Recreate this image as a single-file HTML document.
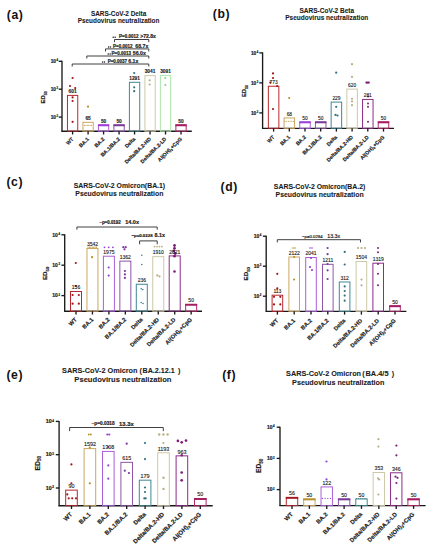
<!DOCTYPE html>
<html><head><meta charset="utf-8"><style>
html,body{margin:0;padding:0;background:#fff;width:434px;height:550px;overflow:hidden}
svg{display:block;font-family:"Liberation Sans", sans-serif}
text{stroke:#1a1a1a;stroke-width:0.18px;paint-order:stroke}
</style></head><body>
<svg width="434" height="550" viewBox="0 0 434 550">
<rect width="434" height="550" fill="#fff"/>
<text x="6.80" y="18.60" font-size="12.2" text-anchor="start" font-weight="bold" fill="#111" style="stroke:none" letter-spacing="0.6">(a)</text>
<text x="118.60" y="15.60" font-size="6.4" text-anchor="middle" font-weight="bold" fill="#1a1a1a" style="stroke-width:0.08px">SARS-CoV-2 Delta</text>
<text x="118.60" y="22.60" font-size="6.4" text-anchor="middle" font-weight="bold" fill="#1a1a1a" style="stroke-width:0.08px">Pseudovirus neutralization</text>
<line x1="62.00" y1="60.80" x2="62.00" y2="131.70" stroke="#1a1a1a" stroke-width="1.35"/>
<line x1="58.70" y1="61.30" x2="62.00" y2="61.30" stroke="#1a1a1a" stroke-width="1.35"/>
<text x="56.00" y="63.00" font-size="4.8" text-anchor="end" font-weight="bold" fill="#1a1a1a" >10</text>
<text x="56.50" y="61.40" font-size="2.64" text-anchor="start" font-weight="bold" fill="#1a1a1a" >4</text>
<line x1="58.70" y1="89.20" x2="62.00" y2="89.20" stroke="#1a1a1a" stroke-width="1.35"/>
<text x="56.00" y="90.90" font-size="4.8" text-anchor="end" font-weight="bold" fill="#1a1a1a" >10</text>
<text x="56.50" y="89.30" font-size="2.64" text-anchor="start" font-weight="bold" fill="#1a1a1a" >3</text>
<line x1="58.70" y1="117.10" x2="62.00" y2="117.10" stroke="#1a1a1a" stroke-width="1.35"/>
<text x="56.00" y="118.80" font-size="4.8" text-anchor="end" font-weight="bold" fill="#1a1a1a" >10</text>
<text x="56.50" y="117.20" font-size="2.64" text-anchor="start" font-weight="bold" fill="#1a1a1a" >2</text>
<text transform="translate(44.90,97.20) rotate(-90)" font-size="5.8" text-anchor="middle" font-weight="bold" fill="#1a1a1a">ED<tspan font-size="3.94" dy="1.6">50</tspan></text>
<line x1="61.50" y1="131.20" x2="191.80" y2="131.20" stroke="#1a1a1a" stroke-width="1.35"/>
<rect x="67.45" y="95.40" width="10.30" height="35.80" fill="none" stroke="#b8282e" stroke-width="1.0"/>
<circle cx="72.60" cy="78.00" r="1.1" fill="#a3161c"/>
<circle cx="70.00" cy="86.00" r="1.1" fill="#a3161c"/>
<circle cx="75.20" cy="88.00" r="1.1" fill="#a3161c"/>
<circle cx="72.60" cy="97.40" r="1.1" fill="#a3161c"/>
<circle cx="72.60" cy="101.00" r="1.1" fill="#a3161c"/>
<circle cx="72.60" cy="121.80" r="1.1" fill="#a3161c"/>
<text x="72.60" y="93.20" font-size="4.8" text-anchor="middle" font-weight="bold" fill="#1a1a1a" style="stroke-width:0.12px">601</text>
<line x1="72.60" y1="131.20" x2="72.60" y2="134.50" stroke="#1a1a1a" stroke-width="1.35"/>
<text transform="translate(73.80,139.50) rotate(-45)" font-size="5.13" text-anchor="end" font-weight="bold" fill="#1a1a1a">WT</text>
<rect x="82.94" y="122.30" width="10.30" height="8.90" fill="none" stroke="#cda661" stroke-width="1.0"/>
<circle cx="88.00" cy="106.70" r="1.1" fill="#b8902a"/>
<circle cx="84.50" cy="125.20" r="0.55" fill="#b8902a"/>
<circle cx="85.90" cy="125.20" r="0.55" fill="#b8902a"/>
<circle cx="87.30" cy="125.20" r="0.55" fill="#b8902a"/>
<circle cx="88.70" cy="125.20" r="0.55" fill="#b8902a"/>
<circle cx="90.10" cy="125.20" r="0.55" fill="#b8902a"/>
<circle cx="91.50" cy="125.20" r="0.55" fill="#b8902a"/>
<text x="88.09" y="120.10" font-size="4.8" text-anchor="middle" font-weight="bold" fill="#1a1a1a" style="stroke-width:0.12px">65</text>
<line x1="88.09" y1="131.20" x2="88.09" y2="134.50" stroke="#1a1a1a" stroke-width="1.35"/>
<text transform="translate(89.29,139.50) rotate(-45)" font-size="5.13" text-anchor="end" font-weight="bold" fill="#1a1a1a">BA.1</text>
<rect x="98.43" y="124.90" width="10.30" height="6.30" fill="none" stroke="#ac5ed9" stroke-width="1.0"/>
<line x1="97.93" y1="125.30" x2="109.23" y2="125.30" stroke="#9b3fd6" stroke-width="1.9"/>
<text x="103.58" y="122.70" font-size="4.8" text-anchor="middle" font-weight="bold" fill="#1a1a1a" style="stroke-width:0.12px">50</text>
<line x1="103.58" y1="131.20" x2="103.58" y2="134.50" stroke="#1a1a1a" stroke-width="1.35"/>
<text transform="translate(104.78,139.50) rotate(-45)" font-size="5.13" text-anchor="end" font-weight="bold" fill="#1a1a1a">BA.2</text>
<rect x="113.92" y="124.90" width="10.30" height="6.30" fill="none" stroke="#8e55a8" stroke-width="1.0"/>
<line x1="113.42" y1="125.30" x2="124.72" y2="125.30" stroke="#7a3a9a" stroke-width="1.9"/>
<text x="119.07" y="122.70" font-size="4.8" text-anchor="middle" font-weight="bold" fill="#1a1a1a" style="stroke-width:0.12px">50</text>
<line x1="119.07" y1="131.20" x2="119.07" y2="134.50" stroke="#1a1a1a" stroke-width="1.35"/>
<text transform="translate(120.27,139.50) rotate(-45)" font-size="5.13" text-anchor="end" font-weight="bold" fill="#1a1a1a">BA.1/BA.2</text>
<rect x="129.41" y="82.30" width="10.30" height="48.90" fill="none" stroke="#3f8796" stroke-width="1.0"/>
<circle cx="134.20" cy="73.00" r="1.1" fill="#2f7282"/>
<circle cx="134.20" cy="87.30" r="1.1" fill="#2f7282"/>
<circle cx="134.20" cy="91.20" r="1.1" fill="#2f7282"/>
<text x="134.56" y="80.10" font-size="4.8" text-anchor="middle" font-weight="bold" fill="#1a1a1a" style="stroke-width:0.12px">1291</text>
<line x1="134.56" y1="131.20" x2="134.56" y2="134.50" stroke="#1a1a1a" stroke-width="1.35"/>
<text transform="translate(135.76,139.50) rotate(-45)" font-size="5.13" text-anchor="end" font-weight="bold" fill="#1a1a1a">Delta</text>
<rect x="144.90" y="75.60" width="10.30" height="55.60" fill="none" stroke="#cdc8a8" stroke-width="1.0"/>
<circle cx="149.60" cy="80.30" r="1.1" fill="#b9b083"/>
<circle cx="149.60" cy="84.50" r="1.1" fill="#b9b083"/>
<text x="150.05" y="73.40" font-size="4.8" text-anchor="middle" font-weight="bold" fill="#1a1a1a" style="stroke-width:0.12px">3041</text>
<line x1="150.05" y1="131.20" x2="150.05" y2="134.50" stroke="#1a1a1a" stroke-width="1.35"/>
<text transform="translate(151.25,139.50) rotate(-45)" font-size="5.13" text-anchor="end" font-weight="bold" fill="#1a1a1a">Delta/BA.2-HD</text>
<rect x="160.39" y="75.60" width="10.30" height="55.60" fill="none" stroke="#ace6ac" stroke-width="1.0"/>
<circle cx="165.30" cy="78.00" r="1.1" fill="#8fd38f"/>
<circle cx="165.30" cy="85.00" r="1.1" fill="#8fd38f"/>
<text x="165.54" y="73.40" font-size="4.8" text-anchor="middle" font-weight="bold" fill="#1a1a1a" style="stroke-width:0.12px">3091</text>
<line x1="165.54" y1="131.20" x2="165.54" y2="134.50" stroke="#1a1a1a" stroke-width="1.35"/>
<text transform="translate(166.74,139.50) rotate(-45)" font-size="5.13" text-anchor="end" font-weight="bold" fill="#1a1a1a">Delta/BA.2-LD</text>
<rect x="175.88" y="124.90" width="10.30" height="6.30" fill="none" stroke="#b22a6c" stroke-width="1.0"/>
<line x1="175.38" y1="125.30" x2="186.68" y2="125.30" stroke="#a51d60" stroke-width="1.9"/>
<text x="181.03" y="122.70" font-size="4.8" text-anchor="middle" font-weight="bold" fill="#1a1a1a" style="stroke-width:0.12px">50</text>
<line x1="181.03" y1="131.20" x2="181.03" y2="134.50" stroke="#1a1a1a" stroke-width="1.35"/>
<text transform="translate(182.23,139.50) rotate(-45)" font-size="5.13" text-anchor="end" font-weight="bold" fill="#1a1a1a">Al(OH)<tspan font-size="60%" dy="1">3</tspan><tspan dy="-1">+CpG</tspan></text>
<path d="M72.20,66.50 V64.00 H148.80 V66.50" fill="none" stroke="#2a2a2a" stroke-width="0.9"/>
<circle cx="102.60" cy="62.10" r="0.75" fill="#1a1a1a"/>
<circle cx="104.50" cy="62.10" r="0.75" fill="#1a1a1a"/>
<text x="107.70" y="63.00" font-size="4.5" text-anchor="start" font-weight="bold" fill="#1a1a1a" >P=0.0037</text>
<text x="128.30" y="63.10" font-size="5.2" text-anchor="start" font-weight="bold" fill="#1a1a1a" >6.1x</text>
<path d="M86.80,58.50 V56.00 H148.80 V58.50" fill="none" stroke="#2a2a2a" stroke-width="0.9"/>
<circle cx="108.20" cy="54.10" r="0.75" fill="#1a1a1a"/>
<circle cx="110.10" cy="54.10" r="0.75" fill="#1a1a1a"/>
<text x="111.50" y="55.00" font-size="4.5" text-anchor="start" font-weight="bold" fill="#1a1a1a" >P=0.0013</text>
<text x="132.80" y="55.10" font-size="5.2" text-anchor="start" font-weight="bold" fill="#1a1a1a" >56.0x</text>
<path d="M105.50,51.50 V48.90 H148.80 V51.50" fill="none" stroke="#2a2a2a" stroke-width="0.9"/>
<circle cx="108.60" cy="47.10" r="0.75" fill="#1a1a1a"/>
<circle cx="110.50" cy="47.10" r="0.75" fill="#1a1a1a"/>
<text x="113.00" y="48.00" font-size="4.5" text-anchor="start" font-weight="bold" fill="#1a1a1a" >P=0.0012</text>
<text x="135.30" y="48.10" font-size="5.2" text-anchor="start" font-weight="bold" fill="#1a1a1a" >68.7x</text>
<path d="M114.50,42.20 V39.50 H148.80 V42.20" fill="none" stroke="#2a2a2a" stroke-width="0.9"/>
<circle cx="113.20" cy="37.30" r="0.75" fill="#1a1a1a"/>
<circle cx="115.10" cy="37.30" r="0.75" fill="#1a1a1a"/>
<text x="119.00" y="38.00" font-size="4.5" text-anchor="start" font-weight="bold" fill="#1a1a1a" >P=0.0012</text>
<text x="140.20" y="38.30" font-size="5.1" text-anchor="start" font-weight="bold" fill="#1a1a1a" >&gt;72.8x</text>
<text x="212.80" y="18.40" font-size="12.2" text-anchor="start" font-weight="bold" fill="#111" style="stroke:none" letter-spacing="0.6">(b)</text>
<text x="326.80" y="12.60" font-size="6.5" text-anchor="middle" font-weight="bold" fill="#1a1a1a" style="stroke-width:0.08px">SARS-CoV-2 Beta</text>
<text x="326.80" y="20.20" font-size="6.5" text-anchor="middle" font-weight="bold" fill="#1a1a1a" style="stroke-width:0.08px">Pseudovirus neutralization</text>
<line x1="262.60" y1="52.40" x2="262.60" y2="128.80" stroke="#1a1a1a" stroke-width="1.35"/>
<line x1="259.30" y1="52.90" x2="262.60" y2="52.90" stroke="#1a1a1a" stroke-width="1.35"/>
<text x="256.30" y="54.60" font-size="4.8" text-anchor="end" font-weight="bold" fill="#1a1a1a" >10</text>
<text x="256.80" y="53.00" font-size="2.64" text-anchor="start" font-weight="bold" fill="#1a1a1a" >4</text>
<line x1="259.30" y1="82.90" x2="262.60" y2="82.90" stroke="#1a1a1a" stroke-width="1.35"/>
<text x="256.30" y="84.60" font-size="4.8" text-anchor="end" font-weight="bold" fill="#1a1a1a" >10</text>
<text x="256.80" y="83.00" font-size="2.64" text-anchor="start" font-weight="bold" fill="#1a1a1a" >3</text>
<line x1="259.30" y1="112.90" x2="262.60" y2="112.90" stroke="#1a1a1a" stroke-width="1.35"/>
<text x="256.30" y="114.60" font-size="4.8" text-anchor="end" font-weight="bold" fill="#1a1a1a" >10</text>
<text x="256.80" y="113.00" font-size="2.64" text-anchor="start" font-weight="bold" fill="#1a1a1a" >2</text>
<text transform="translate(245.90,90.90) rotate(-90)" font-size="5.8" text-anchor="middle" font-weight="bold" fill="#1a1a1a">ED<tspan font-size="3.94" dy="1.6">50</tspan></text>
<line x1="262.10" y1="128.30" x2="394.00" y2="128.30" stroke="#1a1a1a" stroke-width="1.35"/>
<rect x="268.35" y="86.25" width="10.50" height="42.05" fill="none" stroke="#b8282e" stroke-width="1.0"/>
<circle cx="273.00" cy="73.40" r="1.1" fill="#a3161c"/>
<circle cx="273.00" cy="78.00" r="1.1" fill="#a3161c"/>
<circle cx="270.30" cy="82.60" r="1.1" fill="#a3161c"/>
<circle cx="277.20" cy="86.00" r="1.1" fill="#a3161c"/>
<circle cx="273.00" cy="109.00" r="1.1" fill="#a3161c"/>
<text x="273.60" y="84.05" font-size="4.8" text-anchor="middle" font-weight="normal" fill="#1a1a1a" style="stroke-width:0.12px">773</text>
<line x1="273.60" y1="128.30" x2="273.60" y2="131.60" stroke="#1a1a1a" stroke-width="1.35"/>
<text transform="translate(274.80,137.60) rotate(-45)" font-size="5.13" text-anchor="end" font-weight="bold" fill="#1a1a1a">WT</text>
<rect x="284.05" y="117.92" width="10.50" height="10.38" fill="none" stroke="#cda661" stroke-width="1.0"/>
<circle cx="289.20" cy="98.00" r="1.1" fill="#b8902a"/>
<circle cx="285.00" cy="121.20" r="0.55" fill="#b8902a"/>
<circle cx="286.70" cy="121.20" r="0.55" fill="#b8902a"/>
<circle cx="288.40" cy="121.20" r="0.55" fill="#b8902a"/>
<circle cx="290.10" cy="121.20" r="0.55" fill="#b8902a"/>
<circle cx="291.80" cy="121.20" r="0.55" fill="#b8902a"/>
<circle cx="293.50" cy="121.20" r="0.55" fill="#b8902a"/>
<text x="289.30" y="115.72" font-size="4.8" text-anchor="middle" font-weight="normal" fill="#1a1a1a" style="stroke-width:0.12px">68</text>
<line x1="289.30" y1="128.30" x2="289.30" y2="131.60" stroke="#1a1a1a" stroke-width="1.35"/>
<text transform="translate(290.50,137.60) rotate(-45)" font-size="5.13" text-anchor="end" font-weight="bold" fill="#1a1a1a">BA.1</text>
<rect x="299.75" y="121.93" width="10.50" height="6.37" fill="none" stroke="#ac5ed9" stroke-width="1.0"/>
<line x1="299.25" y1="122.33" x2="310.75" y2="122.33" stroke="#9b3fd6" stroke-width="1.9"/>
<text x="305.00" y="119.73" font-size="4.8" text-anchor="middle" font-weight="normal" fill="#1a1a1a" style="stroke-width:0.12px">50</text>
<line x1="305.00" y1="128.30" x2="305.00" y2="131.60" stroke="#1a1a1a" stroke-width="1.35"/>
<text transform="translate(306.20,137.60) rotate(-45)" font-size="5.13" text-anchor="end" font-weight="bold" fill="#1a1a1a">BA.2</text>
<rect x="315.45" y="121.93" width="10.50" height="6.37" fill="none" stroke="#8e55a8" stroke-width="1.0"/>
<line x1="314.95" y1="122.33" x2="326.45" y2="122.33" stroke="#7a3a9a" stroke-width="1.9"/>
<text x="320.70" y="119.73" font-size="4.8" text-anchor="middle" font-weight="normal" fill="#1a1a1a" style="stroke-width:0.12px">50</text>
<line x1="320.70" y1="128.30" x2="320.70" y2="131.60" stroke="#1a1a1a" stroke-width="1.35"/>
<text transform="translate(321.90,137.60) rotate(-45)" font-size="5.13" text-anchor="end" font-weight="bold" fill="#1a1a1a">BA.1/BA.2</text>
<rect x="331.15" y="102.10" width="10.50" height="26.20" fill="none" stroke="#3f8796" stroke-width="1.0"/>
<circle cx="336.20" cy="72.70" r="1.1" fill="#2f7282"/>
<circle cx="336.20" cy="106.80" r="1.1" fill="#2f7282"/>
<circle cx="335.50" cy="114.90" r="1.1" fill="#2f7282"/>
<circle cx="337.50" cy="115.50" r="1.1" fill="#2f7282"/>
<text x="336.40" y="99.90" font-size="4.8" text-anchor="middle" font-weight="normal" fill="#1a1a1a" style="stroke-width:0.12px">229</text>
<line x1="336.40" y1="128.30" x2="336.40" y2="131.60" stroke="#1a1a1a" stroke-width="1.35"/>
<text transform="translate(337.60,137.60) rotate(-45)" font-size="5.13" text-anchor="end" font-weight="bold" fill="#1a1a1a">Delta</text>
<rect x="346.85" y="89.13" width="10.50" height="39.17" fill="none" stroke="#cdc8a8" stroke-width="1.0"/>
<circle cx="352.00" cy="64.20" r="1.1" fill="#b9b083"/>
<circle cx="352.00" cy="76.90" r="1.1" fill="#b9b083"/>
<circle cx="352.00" cy="98.80" r="1.1" fill="#b9b083"/>
<circle cx="352.00" cy="101.50" r="1.1" fill="#b9b083"/>
<circle cx="352.00" cy="105.20" r="1.1" fill="#b9b083"/>
<text x="352.10" y="86.93" font-size="4.8" text-anchor="middle" font-weight="normal" fill="#1a1a1a" style="stroke-width:0.12px">620</text>
<line x1="352.10" y1="128.30" x2="352.10" y2="131.60" stroke="#1a1a1a" stroke-width="1.35"/>
<text transform="translate(353.30,137.60) rotate(-45)" font-size="5.13" text-anchor="end" font-weight="bold" fill="#1a1a1a">Delta/BA.2-HD</text>
<rect x="362.55" y="99.44" width="10.50" height="28.86" fill="none" stroke="#8d2c88" stroke-width="1.0"/>
<circle cx="366.40" cy="82.60" r="1.1" fill="#7f1f7a"/>
<circle cx="367.60" cy="82.60" r="1.1" fill="#7f1f7a"/>
<circle cx="368.80" cy="82.60" r="1.1" fill="#7f1f7a"/>
<circle cx="368.00" cy="96.50" r="1" fill="#7f1f7a"/>
<circle cx="368.00" cy="103.40" r="1" fill="#7f1f7a"/>
<circle cx="368.00" cy="106.80" r="1" fill="#7f1f7a"/>
<circle cx="368.00" cy="121.80" r="1" fill="#7f1f7a"/>
<text x="367.80" y="97.24" font-size="4.8" text-anchor="middle" font-weight="normal" fill="#1a1a1a" style="stroke-width:0.12px">281</text>
<line x1="367.80" y1="128.30" x2="367.80" y2="131.60" stroke="#1a1a1a" stroke-width="1.35"/>
<text transform="translate(369.00,137.60) rotate(-45)" font-size="5.13" text-anchor="end" font-weight="bold" fill="#1a1a1a">Delta/BA.2-LD</text>
<rect x="378.25" y="121.93" width="10.50" height="6.37" fill="none" stroke="#b22a6c" stroke-width="1.0"/>
<line x1="377.75" y1="122.33" x2="389.25" y2="122.33" stroke="#a51d60" stroke-width="1.9"/>
<text x="383.50" y="119.73" font-size="4.8" text-anchor="middle" font-weight="normal" fill="#1a1a1a" style="stroke-width:0.12px">50</text>
<line x1="383.50" y1="128.30" x2="383.50" y2="131.60" stroke="#1a1a1a" stroke-width="1.35"/>
<text transform="translate(384.70,137.60) rotate(-45)" font-size="5.13" text-anchor="end" font-weight="bold" fill="#1a1a1a">Al(OH)<tspan font-size="60%" dy="1">3</tspan><tspan dy="-1">+CpG</tspan></text>
<text x="6.40" y="186.40" font-size="12.2" text-anchor="start" font-weight="bold" fill="#111" style="stroke:none" letter-spacing="0.6">(c)</text>
<text x="119.40" y="187.60" font-size="6.9" text-anchor="middle" font-weight="bold" fill="#1a1a1a" style="stroke-width:0.08px">SARS-CoV-2 Omicron(BA.1)</text>
<text x="119.40" y="195.80" font-size="6.9" text-anchor="middle" font-weight="bold" fill="#1a1a1a" style="stroke-width:0.08px">Pseudovirus neutralization</text>
<line x1="64.70" y1="234.30" x2="64.70" y2="311.70" stroke="#1a1a1a" stroke-width="1.35"/>
<line x1="61.40" y1="234.80" x2="64.70" y2="234.80" stroke="#1a1a1a" stroke-width="1.35"/>
<text x="57.90" y="236.50" font-size="5.0" text-anchor="end" font-weight="bold" fill="#1a1a1a" >10</text>
<text x="58.40" y="234.90" font-size="2.75" text-anchor="start" font-weight="bold" fill="#1a1a1a" >4</text>
<line x1="61.40" y1="265.20" x2="64.70" y2="265.20" stroke="#1a1a1a" stroke-width="1.35"/>
<text x="57.90" y="266.90" font-size="5.0" text-anchor="end" font-weight="bold" fill="#1a1a1a" >10</text>
<text x="58.40" y="265.30" font-size="2.75" text-anchor="start" font-weight="bold" fill="#1a1a1a" >3</text>
<line x1="61.40" y1="295.60" x2="64.70" y2="295.60" stroke="#1a1a1a" stroke-width="1.35"/>
<text x="57.90" y="297.30" font-size="5.0" text-anchor="end" font-weight="bold" fill="#1a1a1a" >10</text>
<text x="58.40" y="295.70" font-size="2.75" text-anchor="start" font-weight="bold" fill="#1a1a1a" >2</text>
<text transform="translate(47.10,273.40) rotate(-90)" font-size="6.2" text-anchor="middle" font-weight="bold" fill="#1a1a1a">ED<tspan font-size="4.22" dy="1.6">50</tspan></text>
<line x1="64.20" y1="311.20" x2="202.00" y2="311.20" stroke="#1a1a1a" stroke-width="1.35"/>
<rect x="70.50" y="291.50" width="11.00" height="19.70" fill="none" stroke="#b8282e" stroke-width="1.0"/>
<circle cx="75.80" cy="263.00" r="1.1" fill="#a3161c"/>
<circle cx="75.80" cy="286.00" r="1.1" fill="#a3161c"/>
<circle cx="72.60" cy="295.00" r="1.1" fill="#a3161c"/>
<circle cx="78.80" cy="295.00" r="1.1" fill="#a3161c"/>
<circle cx="72.60" cy="303.70" r="1.1" fill="#a3161c"/>
<circle cx="78.80" cy="303.70" r="1.1" fill="#a3161c"/>
<text x="76.00" y="289.30" font-size="5.0" text-anchor="middle" font-weight="normal" fill="#1a1a1a" style="stroke-width:0.12px">156</text>
<line x1="76.00" y1="311.20" x2="76.00" y2="314.50" stroke="#1a1a1a" stroke-width="1.35"/>
<text transform="translate(77.20,320.00) rotate(-45)" font-size="5.70" text-anchor="end" font-weight="bold" fill="#1a1a1a">WT</text>
<rect x="86.95" y="248.50" width="11.00" height="62.70" fill="none" stroke="#cda661" stroke-width="1.0"/>
<circle cx="92.10" cy="257.20" r="1.1" fill="#b8902a"/>
<circle cx="88.00" cy="247.20" r="0.6" fill="#b8902a"/>
<circle cx="89.42" cy="247.20" r="0.6" fill="#b8902a"/>
<circle cx="90.83" cy="247.20" r="0.6" fill="#b8902a"/>
<circle cx="92.25" cy="247.20" r="0.6" fill="#b8902a"/>
<circle cx="93.67" cy="247.20" r="0.6" fill="#b8902a"/>
<circle cx="95.08" cy="247.20" r="0.6" fill="#b8902a"/>
<circle cx="96.50" cy="247.20" r="0.6" fill="#b8902a"/>
<text x="92.45" y="246.30" font-size="5.0" text-anchor="middle" font-weight="normal" fill="#1a1a1a" style="stroke-width:0.12px">3542</text>
<line x1="92.45" y1="311.20" x2="92.45" y2="314.50" stroke="#1a1a1a" stroke-width="1.35"/>
<text transform="translate(93.65,320.00) rotate(-45)" font-size="5.70" text-anchor="end" font-weight="bold" fill="#1a1a1a">BA.1</text>
<rect x="103.40" y="256.21" width="11.00" height="54.99" fill="none" stroke="#ac5ed9" stroke-width="1.0"/>
<circle cx="104.50" cy="247.30" r="0.9" fill="#9b3fd6"/>
<circle cx="108.70" cy="247.30" r="0.9" fill="#9b3fd6"/>
<circle cx="112.90" cy="247.30" r="0.9" fill="#9b3fd6"/>
<circle cx="108.70" cy="267.50" r="1.1" fill="#9b3fd6"/>
<circle cx="108.70" cy="275.60" r="1.1" fill="#9b3fd6"/>
<text x="108.90" y="254.01" font-size="5.0" text-anchor="middle" font-weight="normal" fill="#1a1a1a" style="stroke-width:0.12px">1975</text>
<line x1="108.90" y1="311.20" x2="108.90" y2="314.50" stroke="#1a1a1a" stroke-width="1.35"/>
<text transform="translate(110.10,320.00) rotate(-45)" font-size="5.70" text-anchor="end" font-weight="bold" fill="#1a1a1a">BA.2</text>
<rect x="119.85" y="261.12" width="11.00" height="50.08" fill="none" stroke="#8e55a8" stroke-width="1.0"/>
<circle cx="123.30" cy="247.20" r="1.1" fill="#7a3a9a"/>
<circle cx="125.70" cy="247.20" r="1.1" fill="#7a3a9a"/>
<circle cx="124.50" cy="249.30" r="1.1" fill="#7a3a9a"/>
<circle cx="124.90" cy="271.00" r="1.1" fill="#7a3a9a"/>
<circle cx="124.90" cy="274.40" r="1.1" fill="#7a3a9a"/>
<circle cx="124.90" cy="277.90" r="1.1" fill="#7a3a9a"/>
<text x="125.35" y="258.92" font-size="5.0" text-anchor="middle" font-weight="normal" fill="#1a1a1a" style="stroke-width:0.12px">1362</text>
<line x1="125.35" y1="311.20" x2="125.35" y2="314.50" stroke="#1a1a1a" stroke-width="1.35"/>
<text transform="translate(126.55,320.00) rotate(-45)" font-size="5.70" text-anchor="end" font-weight="bold" fill="#1a1a1a">BA.1/BA.2</text>
<rect x="136.30" y="284.26" width="11.00" height="26.94" fill="none" stroke="#3f8796" stroke-width="1.0"/>
<circle cx="141.80" cy="255.30" r="0.75" fill="#2f7282"/>
<circle cx="141.80" cy="264.50" r="0.75" fill="#2f7282"/>
<circle cx="141.20" cy="288.70" r="0.75" fill="#2f7282"/>
<circle cx="142.80" cy="289.50" r="0.75" fill="#2f7282"/>
<circle cx="141.20" cy="302.60" r="0.75" fill="#2f7282"/>
<circle cx="143.00" cy="303.50" r="0.75" fill="#2f7282"/>
<text x="141.80" y="282.06" font-size="5.0" text-anchor="middle" font-weight="normal" fill="#1a1a1a" style="stroke-width:0.12px">236</text>
<line x1="141.80" y1="311.20" x2="141.80" y2="314.50" stroke="#1a1a1a" stroke-width="1.35"/>
<text transform="translate(143.00,320.00) rotate(-45)" font-size="5.70" text-anchor="end" font-weight="bold" fill="#1a1a1a">Delta</text>
<rect x="152.75" y="256.66" width="11.00" height="54.54" fill="none" stroke="#cdc8a8" stroke-width="1.0"/>
<circle cx="154.50" cy="246.60" r="0.9" fill="#b9b083"/>
<circle cx="157.00" cy="246.60" r="0.9" fill="#b9b083"/>
<circle cx="159.50" cy="246.60" r="0.9" fill="#b9b083"/>
<circle cx="162.00" cy="246.60" r="0.9" fill="#b9b083"/>
<circle cx="157.20" cy="275.40" r="1.1" fill="#b9b083"/>
<circle cx="159.50" cy="276.40" r="1.1" fill="#b9b083"/>
<text x="158.25" y="254.46" font-size="5.0" text-anchor="middle" font-weight="normal" fill="#1a1a1a" style="stroke-width:0.12px">1910</text>
<line x1="158.25" y1="311.20" x2="158.25" y2="314.50" stroke="#1a1a1a" stroke-width="1.35"/>
<text transform="translate(159.45,320.00) rotate(-45)" font-size="5.70" text-anchor="end" font-weight="bold" fill="#1a1a1a">Delta/BA.2-HD</text>
<rect x="169.20" y="255.91" width="11.00" height="55.29" fill="none" stroke="#8d2c88" stroke-width="1.0"/>
<circle cx="174.50" cy="245.50" r="1.4" fill="#7f1f7a"/>
<circle cx="174.50" cy="248.30" r="1.4" fill="#7f1f7a"/>
<circle cx="173.80" cy="251.00" r="1.4" fill="#7f1f7a"/>
<circle cx="175.20" cy="253.50" r="1.4" fill="#7f1f7a"/>
<circle cx="174.50" cy="256.20" r="1.4" fill="#7f1f7a"/>
<circle cx="174.50" cy="271.50" r="1.3" fill="#7f1f7a"/>
<text x="174.70" y="253.71" font-size="5.0" text-anchor="middle" font-weight="normal" fill="#1a1a1a" style="stroke-width:0.12px">2021</text>
<line x1="174.70" y1="311.20" x2="174.70" y2="314.50" stroke="#1a1a1a" stroke-width="1.35"/>
<text transform="translate(175.90,320.00) rotate(-45)" font-size="5.70" text-anchor="end" font-weight="bold" fill="#1a1a1a">Delta/BA.2-LD</text>
<rect x="185.65" y="304.40" width="11.00" height="6.80" fill="none" stroke="#b22a6c" stroke-width="1.0"/>
<line x1="185.15" y1="304.80" x2="197.15" y2="304.80" stroke="#a51d60" stroke-width="1.9"/>
<text x="191.15" y="302.20" font-size="5.0" text-anchor="middle" font-weight="normal" fill="#1a1a1a" style="stroke-width:0.12px">50</text>
<line x1="191.15" y1="311.20" x2="191.15" y2="314.50" stroke="#1a1a1a" stroke-width="1.35"/>
<text transform="translate(192.35,320.00) rotate(-45)" font-size="5.70" text-anchor="end" font-weight="bold" fill="#1a1a1a">Al(OH)<tspan font-size="60%" dy="1">3</tspan><tspan dy="-1">+CpG</tspan></text>
<path d="M76.90,229.70 V227.00 H157.20 V229.70" fill="none" stroke="#2a2a2a" stroke-width="0.9"/>
<text x="99.30" y="223.80" font-size="4.45" text-anchor="start" font-weight="bold" fill="#1a1a1a" >~p=0.0192</text>
<text x="125.20" y="224.30" font-size="5.5" text-anchor="start" font-weight="bold" fill="#1a1a1a" >14.0x</text>
<path d="M139.60,244.30 V240.90 H157.20 V244.30" fill="none" stroke="#2a2a2a" stroke-width="0.9"/>
<text x="131.40" y="237.00" font-size="4.4" text-anchor="start" font-weight="bold" fill="#1a1a1a" >~p=0.0228</text>
<text x="154.60" y="237.30" font-size="5.4" text-anchor="start" font-weight="bold" fill="#1a1a1a" >8.1x</text>
<text x="220.60" y="191.40" font-size="12.2" text-anchor="start" font-weight="bold" fill="#111" style="stroke:none" letter-spacing="0.6">(d)</text>
<text x="319.60" y="188.60" font-size="6.9" text-anchor="middle" font-weight="bold" fill="#1a1a1a" style="stroke-width:0.08px">SARS-CoV-2 Omicron(BA.2)</text>
<text x="319.60" y="197.20" font-size="6.9" text-anchor="middle" font-weight="bold" fill="#1a1a1a" style="stroke-width:0.08px">Pseudovirus neutralization</text>
<line x1="266.20" y1="235.70" x2="266.20" y2="311.80" stroke="#1a1a1a" stroke-width="1.35"/>
<line x1="262.90" y1="236.20" x2="266.20" y2="236.20" stroke="#1a1a1a" stroke-width="1.35"/>
<text x="259.30" y="237.90" font-size="5.0" text-anchor="end" font-weight="bold" fill="#1a1a1a" >10</text>
<text x="259.80" y="236.30" font-size="2.75" text-anchor="start" font-weight="bold" fill="#1a1a1a" >4</text>
<line x1="262.90" y1="266.20" x2="266.20" y2="266.20" stroke="#1a1a1a" stroke-width="1.35"/>
<text x="259.30" y="267.90" font-size="5.0" text-anchor="end" font-weight="bold" fill="#1a1a1a" >10</text>
<text x="259.80" y="266.30" font-size="2.75" text-anchor="start" font-weight="bold" fill="#1a1a1a" >3</text>
<line x1="262.90" y1="296.20" x2="266.20" y2="296.20" stroke="#1a1a1a" stroke-width="1.35"/>
<text x="259.30" y="297.90" font-size="5.0" text-anchor="end" font-weight="bold" fill="#1a1a1a" >10</text>
<text x="259.80" y="296.30" font-size="2.75" text-anchor="start" font-weight="bold" fill="#1a1a1a" >2</text>
<text transform="translate(248.40,273.80) rotate(-90)" font-size="6.2" text-anchor="middle" font-weight="bold" fill="#1a1a1a">ED<tspan font-size="4.22" dy="1.6">50</tspan></text>
<line x1="265.70" y1="311.30" x2="406.40" y2="311.30" stroke="#1a1a1a" stroke-width="1.35"/>
<rect x="272.10" y="295.21" width="10.60" height="16.09" fill="none" stroke="#b8282e" stroke-width="1.0"/>
<circle cx="277.30" cy="273.80" r="1.1" fill="#a3161c"/>
<circle cx="277.30" cy="288.30" r="1.1" fill="#a3161c"/>
<circle cx="274.00" cy="296.80" r="1.1" fill="#a3161c"/>
<circle cx="280.30" cy="296.80" r="1.1" fill="#a3161c"/>
<circle cx="274.00" cy="304.40" r="1.1" fill="#a3161c"/>
<circle cx="280.30" cy="304.40" r="1.1" fill="#a3161c"/>
<text x="277.40" y="293.01" font-size="5.0" text-anchor="middle" font-weight="normal" fill="#1a1a1a" style="stroke-width:0.12px">113</text>
<line x1="277.40" y1="311.30" x2="277.40" y2="314.60" stroke="#1a1a1a" stroke-width="1.35"/>
<text transform="translate(278.60,321.10) rotate(-45)" font-size="5.70" text-anchor="end" font-weight="bold" fill="#1a1a1a">WT</text>
<rect x="288.90" y="257.00" width="10.60" height="54.30" fill="none" stroke="#cda661" stroke-width="1.0"/>
<circle cx="293.00" cy="248.00" r="0.8" fill="#b8902a"/>
<circle cx="295.00" cy="248.00" r="0.8" fill="#b8902a"/>
<circle cx="294.10" cy="257.00" r="1.1" fill="#b8902a"/>
<circle cx="294.10" cy="279.50" r="1.1" fill="#b8902a"/>
<text x="294.20" y="254.80" font-size="5.0" text-anchor="middle" font-weight="normal" fill="#1a1a1a" style="stroke-width:0.12px">2122</text>
<line x1="294.20" y1="311.30" x2="294.20" y2="314.60" stroke="#1a1a1a" stroke-width="1.35"/>
<text transform="translate(295.40,321.10) rotate(-45)" font-size="5.70" text-anchor="end" font-weight="bold" fill="#1a1a1a">BA.1</text>
<rect x="305.70" y="257.50" width="10.60" height="53.80" fill="none" stroke="#ac5ed9" stroke-width="1.0"/>
<circle cx="310.00" cy="248.00" r="0.8" fill="#9b3fd6"/>
<circle cx="312.00" cy="248.00" r="0.8" fill="#9b3fd6"/>
<circle cx="311.00" cy="258.00" r="1.1" fill="#9b3fd6"/>
<circle cx="310.00" cy="267.00" r="1.1" fill="#9b3fd6"/>
<circle cx="312.00" cy="270.00" r="1.1" fill="#9b3fd6"/>
<text x="311.00" y="255.30" font-size="5.0" text-anchor="middle" font-weight="normal" fill="#1a1a1a" style="stroke-width:0.12px">2041</text>
<line x1="311.00" y1="311.30" x2="311.00" y2="314.60" stroke="#1a1a1a" stroke-width="1.35"/>
<text transform="translate(312.20,321.10) rotate(-45)" font-size="5.70" text-anchor="end" font-weight="bold" fill="#1a1a1a">BA.2</text>
<rect x="322.50" y="264.31" width="10.60" height="46.99" fill="none" stroke="#8e55a8" stroke-width="1.0"/>
<circle cx="327.60" cy="248.00" r="1.1" fill="#7a3a9a"/>
<circle cx="327.60" cy="254.20" r="1.1" fill="#7a3a9a"/>
<circle cx="327.60" cy="264.00" r="1.1" fill="#7a3a9a"/>
<circle cx="327.60" cy="270.30" r="1.1" fill="#7a3a9a"/>
<circle cx="327.60" cy="279.00" r="1.1" fill="#7a3a9a"/>
<text x="327.80" y="262.11" font-size="5.0" text-anchor="middle" font-weight="normal" fill="#1a1a1a" style="stroke-width:0.12px">1211</text>
<line x1="327.80" y1="311.30" x2="327.80" y2="314.60" stroke="#1a1a1a" stroke-width="1.35"/>
<text transform="translate(329.00,321.10) rotate(-45)" font-size="5.70" text-anchor="end" font-weight="bold" fill="#1a1a1a">BA.1/BA.2</text>
<rect x="339.30" y="281.98" width="10.60" height="29.32" fill="none" stroke="#3f8796" stroke-width="1.0"/>
<circle cx="344.70" cy="251.90" r="1.1" fill="#2f7282"/>
<circle cx="344.70" cy="264.50" r="1.1" fill="#2f7282"/>
<circle cx="344.70" cy="286.40" r="1.1" fill="#2f7282"/>
<circle cx="344.70" cy="291.00" r="1.1" fill="#2f7282"/>
<circle cx="344.70" cy="295.60" r="1.1" fill="#2f7282"/>
<circle cx="344.70" cy="300.70" r="1.1" fill="#2f7282"/>
<text x="344.60" y="279.78" font-size="5.0" text-anchor="middle" font-weight="normal" fill="#1a1a1a" style="stroke-width:0.12px">312</text>
<line x1="344.60" y1="311.30" x2="344.60" y2="314.60" stroke="#1a1a1a" stroke-width="1.35"/>
<text transform="translate(345.80,321.10) rotate(-45)" font-size="5.70" text-anchor="end" font-weight="bold" fill="#1a1a1a">Delta</text>
<rect x="356.10" y="261.48" width="10.60" height="49.82" fill="none" stroke="#cdc8a8" stroke-width="1.0"/>
<circle cx="358.00" cy="248.00" r="1.1" fill="#b9b083"/>
<circle cx="361.50" cy="248.00" r="1.1" fill="#b9b083"/>
<circle cx="365.00" cy="248.00" r="1.1" fill="#b9b083"/>
<circle cx="361.50" cy="279.50" r="1.1" fill="#b9b083"/>
<circle cx="361.50" cy="285.30" r="1.1" fill="#b9b083"/>
<text x="361.40" y="259.28" font-size="5.0" text-anchor="middle" font-weight="normal" fill="#1a1a1a" style="stroke-width:0.12px">1504</text>
<line x1="361.40" y1="311.30" x2="361.40" y2="314.60" stroke="#1a1a1a" stroke-width="1.35"/>
<text transform="translate(362.60,321.10) rotate(-45)" font-size="5.70" text-anchor="end" font-weight="bold" fill="#1a1a1a">Delta/BA.2-HD</text>
<rect x="372.90" y="263.19" width="10.60" height="48.11" fill="none" stroke="#8d2c88" stroke-width="1.0"/>
<circle cx="378.00" cy="248.00" r="1" fill="#7f1f7a"/>
<circle cx="378.00" cy="252.30" r="1" fill="#7f1f7a"/>
<circle cx="378.00" cy="264.00" r="1" fill="#7f1f7a"/>
<circle cx="378.00" cy="273.80" r="1" fill="#7f1f7a"/>
<circle cx="378.00" cy="285.30" r="1" fill="#7f1f7a"/>
<text x="378.20" y="260.99" font-size="5.0" text-anchor="middle" font-weight="normal" fill="#1a1a1a" style="stroke-width:0.12px">1319</text>
<line x1="378.20" y1="311.30" x2="378.20" y2="314.60" stroke="#1a1a1a" stroke-width="1.35"/>
<text transform="translate(379.40,321.10) rotate(-45)" font-size="5.70" text-anchor="end" font-weight="bold" fill="#1a1a1a">Delta/BA.2-LD</text>
<rect x="389.70" y="305.83" width="10.60" height="5.47" fill="none" stroke="#b22a6c" stroke-width="1.0"/>
<line x1="389.20" y1="306.23" x2="400.80" y2="306.23" stroke="#a51d60" stroke-width="1.9"/>
<text x="395.00" y="303.63" font-size="5.0" text-anchor="middle" font-weight="normal" fill="#1a1a1a" style="stroke-width:0.12px">50</text>
<line x1="395.00" y1="311.30" x2="395.00" y2="314.60" stroke="#1a1a1a" stroke-width="1.35"/>
<text transform="translate(396.20,321.10) rotate(-45)" font-size="5.70" text-anchor="end" font-weight="bold" fill="#1a1a1a">Al(OH)<tspan font-size="60%" dy="1">3</tspan><tspan dy="-1">+CpG</tspan></text>
<path d="M277.30,242.40 V239.70 H360.50 V242.40" fill="none" stroke="#2a2a2a" stroke-width="0.9"/>
<text x="302.10" y="237.60" font-size="4.3" text-anchor="start" font-weight="normal" fill="#1a1a1a" >~p=0.0294</text>
<text x="327.20" y="237.80" font-size="5.3" text-anchor="start" font-weight="normal" fill="#1a1a1a" >13.3x</text>
<text x="6.40" y="378.60" font-size="12.2" text-anchor="start" font-weight="bold" fill="#111" style="stroke:none" letter-spacing="0.6">(e)</text>
<text x="62.10" y="373.30" font-size="7.3" text-anchor="start" font-weight="bold" fill="#1a1a1a" style="stroke-width:0.08px">SARS-CoV-2 Omicron</text>
<text x="139.60" y="373.30" font-size="7.3" text-anchor="start" font-weight="bold" fill="#1a1a1a" style="stroke-width:0.08px">(</text>
<text x="142.50" y="373.30" font-size="7.15" text-anchor="start" font-weight="bold" fill="#1a1a1a" style="stroke-width:0.08px">BA.2.12.1</text>
<text x="178.00" y="373.30" font-size="7.3" text-anchor="start" font-weight="bold" fill="#1a1a1a" style="stroke-width:0.08px">)</text>
<text x="122.90" y="382.40" font-size="7.6" text-anchor="middle" font-weight="bold" fill="#1a1a1a" style="stroke-width:0.08px">Pseudovirus neutralization</text>
<line x1="59.10" y1="420.90" x2="59.10" y2="506.20" stroke="#1a1a1a" stroke-width="1.35"/>
<line x1="55.80" y1="421.40" x2="59.10" y2="421.40" stroke="#1a1a1a" stroke-width="1.35"/>
<text x="51.70" y="423.10" font-size="5.4" text-anchor="end" font-weight="bold" fill="#1a1a1a" >10</text>
<text x="52.20" y="421.50" font-size="2.9700000000000006" text-anchor="start" font-weight="bold" fill="#1a1a1a" >4</text>
<line x1="55.80" y1="454.70" x2="59.10" y2="454.70" stroke="#1a1a1a" stroke-width="1.35"/>
<text x="51.70" y="456.40" font-size="5.4" text-anchor="end" font-weight="bold" fill="#1a1a1a" >10</text>
<text x="52.20" y="454.80" font-size="2.9700000000000006" text-anchor="start" font-weight="bold" fill="#1a1a1a" >3</text>
<line x1="55.80" y1="488.00" x2="59.10" y2="488.00" stroke="#1a1a1a" stroke-width="1.35"/>
<text x="51.70" y="489.70" font-size="5.4" text-anchor="end" font-weight="bold" fill="#1a1a1a" >10</text>
<text x="52.20" y="488.10" font-size="2.9700000000000006" text-anchor="start" font-weight="bold" fill="#1a1a1a" >2</text>
<text transform="translate(39.70,463.20) rotate(-90)" font-size="6.8" text-anchor="middle" font-weight="bold" fill="#1a1a1a">ED<tspan font-size="4.62" dy="1.6">50</tspan></text>
<line x1="58.60" y1="505.70" x2="212.70" y2="505.70" stroke="#1a1a1a" stroke-width="1.35"/>
<rect x="65.70" y="490.12" width="11.60" height="15.58" fill="none" stroke="#b8282e" stroke-width="1.0"/>
<circle cx="71.40" cy="464.40" r="1.1" fill="#a3161c"/>
<circle cx="71.40" cy="483.30" r="1.1" fill="#a3161c"/>
<circle cx="67.30" cy="494.40" r="1.1" fill="#a3161c"/>
<circle cx="68.70" cy="498.30" r="1.1" fill="#a3161c"/>
<circle cx="72.20" cy="498.30" r="1.1" fill="#a3161c"/>
<circle cx="76.00" cy="498.30" r="1.1" fill="#a3161c"/>
<text x="71.50" y="487.92" font-size="5.4" text-anchor="middle" font-weight="normal" fill="#1a1a1a" style="stroke-width:0.12px">90</text>
<line x1="71.50" y1="505.70" x2="71.50" y2="509.00" stroke="#1a1a1a" stroke-width="1.35"/>
<text transform="translate(72.70,514.80) rotate(-45)" font-size="6.08" text-anchor="end" font-weight="bold" fill="#1a1a1a">WT</text>
<rect x="84.10" y="448.58" width="11.60" height="57.12" fill="none" stroke="#cda661" stroke-width="1.0"/>
<circle cx="88.80" cy="434.50" r="0.9" fill="#b8902a"/>
<circle cx="90.80" cy="434.50" r="0.9" fill="#b8902a"/>
<circle cx="89.80" cy="447.60" r="1.1" fill="#b8902a"/>
<circle cx="89.80" cy="483.30" r="1.1" fill="#b8902a"/>
<text x="89.90" y="446.38" font-size="5.4" text-anchor="middle" font-weight="normal" fill="#1a1a1a" style="stroke-width:0.12px">1592</text>
<line x1="89.90" y1="505.70" x2="89.90" y2="509.00" stroke="#1a1a1a" stroke-width="1.35"/>
<text transform="translate(91.10,514.80) rotate(-45)" font-size="6.08" text-anchor="end" font-weight="bold" fill="#1a1a1a">BA.1</text>
<rect x="102.50" y="451.42" width="11.60" height="54.28" fill="none" stroke="#ac5ed9" stroke-width="1.0"/>
<circle cx="107.30" cy="434.50" r="1.1" fill="#9b3fd6"/>
<circle cx="109.30" cy="434.50" r="1.1" fill="#9b3fd6"/>
<circle cx="108.30" cy="447.00" r="1.1" fill="#9b3fd6"/>
<circle cx="108.30" cy="465.40" r="1.1" fill="#9b3fd6"/>
<circle cx="108.30" cy="478.70" r="1.1" fill="#9b3fd6"/>
<text x="108.30" y="449.22" font-size="5.4" text-anchor="middle" font-weight="normal" fill="#1a1a1a" style="stroke-width:0.12px">1308</text>
<line x1="108.30" y1="505.70" x2="108.30" y2="509.00" stroke="#1a1a1a" stroke-width="1.35"/>
<text transform="translate(109.50,514.80) rotate(-45)" font-size="6.08" text-anchor="end" font-weight="bold" fill="#1a1a1a">BA.2</text>
<rect x="120.90" y="462.33" width="11.60" height="43.37" fill="none" stroke="#8e55a8" stroke-width="1.0"/>
<circle cx="126.70" cy="443.70" r="1.1" fill="#7a3a9a"/>
<circle cx="124.80" cy="470.70" r="1.1" fill="#7a3a9a"/>
<circle cx="128.90" cy="473.00" r="1.1" fill="#7a3a9a"/>
<text x="126.70" y="460.13" font-size="5.4" text-anchor="middle" font-weight="normal" fill="#1a1a1a" style="stroke-width:0.12px">615</text>
<line x1="126.70" y1="505.70" x2="126.70" y2="509.00" stroke="#1a1a1a" stroke-width="1.35"/>
<text transform="translate(127.90,514.80) rotate(-45)" font-size="6.08" text-anchor="end" font-weight="bold" fill="#1a1a1a">BA.1/BA.2</text>
<rect x="139.30" y="480.18" width="11.60" height="25.52" fill="none" stroke="#3f8796" stroke-width="1.0"/>
<circle cx="145.00" cy="443.00" r="1.1" fill="#2f7282"/>
<circle cx="145.00" cy="459.10" r="1.1" fill="#2f7282"/>
<circle cx="145.00" cy="487.50" r="1.1" fill="#2f7282"/>
<circle cx="145.00" cy="492.00" r="1.1" fill="#2f7282"/>
<circle cx="144.30" cy="498.30" r="1.1" fill="#2f7282"/>
<circle cx="145.70" cy="498.30" r="1.1" fill="#2f7282"/>
<text x="145.10" y="477.98" font-size="5.4" text-anchor="middle" font-weight="normal" fill="#1a1a1a" style="stroke-width:0.12px">179</text>
<line x1="145.10" y1="505.70" x2="145.10" y2="509.00" stroke="#1a1a1a" stroke-width="1.35"/>
<text transform="translate(146.30,514.80) rotate(-45)" font-size="6.08" text-anchor="end" font-weight="bold" fill="#1a1a1a">Delta</text>
<rect x="157.70" y="452.75" width="11.60" height="52.95" fill="none" stroke="#cdc8a8" stroke-width="1.0"/>
<circle cx="159.20" cy="434.50" r="1.2" fill="#b9b083"/>
<circle cx="163.40" cy="434.50" r="1.2" fill="#b9b083"/>
<circle cx="167.60" cy="434.50" r="1.2" fill="#b9b083"/>
<circle cx="163.40" cy="443.00" r="1.1" fill="#b9b083"/>
<circle cx="163.50" cy="477.70" r="1.2" fill="#b9b083"/>
<circle cx="163.50" cy="488.90" r="1.2" fill="#b9b083"/>
<text x="163.50" y="450.55" font-size="5.4" text-anchor="middle" font-weight="normal" fill="#1a1a1a" style="stroke-width:0.12px">1193</text>
<line x1="163.50" y1="505.70" x2="163.50" y2="509.00" stroke="#1a1a1a" stroke-width="1.35"/>
<text transform="translate(164.70,514.80) rotate(-45)" font-size="6.08" text-anchor="end" font-weight="bold" fill="#1a1a1a">Delta/BA.2-HD</text>
<rect x="176.10" y="455.85" width="11.60" height="49.85" fill="none" stroke="#8d2c88" stroke-width="1.0"/>
<circle cx="177.90" cy="440.90" r="1.35" fill="#7f1f7a"/>
<circle cx="181.70" cy="442.30" r="1.35" fill="#7f1f7a"/>
<circle cx="186.00" cy="440.60" r="1.35" fill="#7f1f7a"/>
<circle cx="181.70" cy="455.20" r="1.2" fill="#7f1f7a"/>
<circle cx="181.70" cy="472.50" r="1.35" fill="#7f1f7a"/>
<circle cx="181.70" cy="480.30" r="1.35" fill="#7f1f7a"/>
<text x="181.90" y="453.65" font-size="5.4" text-anchor="middle" font-weight="normal" fill="#1a1a1a" style="stroke-width:0.12px">963</text>
<line x1="181.90" y1="505.70" x2="181.90" y2="509.00" stroke="#1a1a1a" stroke-width="1.35"/>
<text transform="translate(183.10,514.80) rotate(-45)" font-size="6.08" text-anchor="end" font-weight="bold" fill="#1a1a1a">Delta/BA.2-LD</text>
<rect x="194.50" y="498.62" width="11.60" height="7.08" fill="none" stroke="#b22a6c" stroke-width="1.0"/>
<line x1="194.00" y1="499.02" x2="206.60" y2="499.02" stroke="#a51d60" stroke-width="1.9"/>
<text x="200.30" y="496.42" font-size="5.4" text-anchor="middle" font-weight="normal" fill="#1a1a1a" style="stroke-width:0.12px">50</text>
<line x1="200.30" y1="505.70" x2="200.30" y2="509.00" stroke="#1a1a1a" stroke-width="1.35"/>
<text transform="translate(201.50,514.80) rotate(-45)" font-size="6.08" text-anchor="end" font-weight="bold" fill="#1a1a1a">Al(OH)<tspan font-size="60%" dy="1">3</tspan><tspan dy="-1">+CpG</tspan></text>
<path d="M69.60,431.10 V427.50 H163.30 V431.10" fill="none" stroke="#2a2a2a" stroke-width="0.9"/>
<text x="91.50" y="425.20" font-size="4.8" text-anchor="start" font-weight="bold" fill="#1a1a1a" >~p=0.0318</text>
<text x="119.10" y="425.50" font-size="5.9" text-anchor="start" font-weight="bold" fill="#1a1a1a" >13.3x</text>
<text x="222.20" y="378.60" font-size="12.2" text-anchor="start" font-weight="bold" fill="#111" style="stroke:none" letter-spacing="0.6">(f)</text>
<text x="286.10" y="376.00" font-size="7.25" text-anchor="start" font-weight="bold" fill="#1a1a1a" style="stroke-width:0.08px">SARS-CoV-2 Omicron</text>
<text x="362.20" y="376.00" font-size="7.25" text-anchor="start" font-weight="bold" fill="#1a1a1a" style="stroke-width:0.08px">(</text>
<text x="365.50" y="376.00" font-size="7.4" text-anchor="start" font-weight="bold" fill="#1a1a1a" style="stroke-width:0.08px">BA.4/5</text>
<text x="391.80" y="376.00" font-size="7.25" text-anchor="start" font-weight="bold" fill="#1a1a1a" style="stroke-width:0.08px">)</text>
<text x="338.25" y="385.00" font-size="7.22" text-anchor="middle" font-weight="bold" fill="#1a1a1a" style="stroke-width:0.08px">Pseudovirus neutralization</text>
<line x1="280.00" y1="426.70" x2="280.00" y2="506.10" stroke="#1a1a1a" stroke-width="1.35"/>
<line x1="276.70" y1="427.20" x2="280.00" y2="427.20" stroke="#1a1a1a" stroke-width="1.35"/>
<text x="272.50" y="428.90" font-size="5.0" text-anchor="end" font-weight="bold" fill="#1a1a1a" >10</text>
<text x="273.00" y="427.30" font-size="2.75" text-anchor="start" font-weight="bold" fill="#1a1a1a" >4</text>
<line x1="276.70" y1="458.40" x2="280.00" y2="458.40" stroke="#1a1a1a" stroke-width="1.35"/>
<text x="272.50" y="460.10" font-size="5.0" text-anchor="end" font-weight="bold" fill="#1a1a1a" >10</text>
<text x="273.00" y="458.50" font-size="2.75" text-anchor="start" font-weight="bold" fill="#1a1a1a" >3</text>
<line x1="276.70" y1="489.60" x2="280.00" y2="489.60" stroke="#1a1a1a" stroke-width="1.35"/>
<text x="272.50" y="491.30" font-size="5.0" text-anchor="end" font-weight="bold" fill="#1a1a1a" >10</text>
<text x="273.00" y="489.70" font-size="2.75" text-anchor="start" font-weight="bold" fill="#1a1a1a" >2</text>
<text transform="translate(261.00,465.90) rotate(-90)" font-size="6.6" text-anchor="middle" font-weight="bold" fill="#1a1a1a">ED<tspan font-size="4.49" dy="1.6">50</tspan></text>
<line x1="279.50" y1="505.60" x2="425.60" y2="505.60" stroke="#1a1a1a" stroke-width="1.35"/>
<rect x="286.30" y="497.46" width="11.40" height="8.14" fill="none" stroke="#b8282e" stroke-width="1.0"/>
<line x1="285.80" y1="497.86" x2="298.20" y2="497.86" stroke="#a3161c" stroke-width="1.9"/>
<text x="292.00" y="495.26" font-size="5.2" text-anchor="middle" font-weight="normal" fill="#1a1a1a" style="stroke-width:0.12px">56</text>
<line x1="292.00" y1="505.60" x2="292.00" y2="508.90" stroke="#1a1a1a" stroke-width="1.35"/>
<text transform="translate(293.20,514.70) rotate(-45)" font-size="5.89" text-anchor="end" font-weight="bold" fill="#1a1a1a">WT</text>
<rect x="303.67" y="498.99" width="11.40" height="6.61" fill="none" stroke="#cda661" stroke-width="1.0"/>
<line x1="303.17" y1="499.39" x2="315.57" y2="499.39" stroke="#b8902a" stroke-width="1.9"/>
<text x="309.37" y="496.79" font-size="5.2" text-anchor="middle" font-weight="normal" fill="#1a1a1a" style="stroke-width:0.12px">50</text>
<line x1="309.37" y1="505.60" x2="309.37" y2="508.90" stroke="#1a1a1a" stroke-width="1.35"/>
<text transform="translate(310.57,514.70) rotate(-45)" font-size="5.89" text-anchor="end" font-weight="bold" fill="#1a1a1a">BA.1</text>
<rect x="321.04" y="486.91" width="11.40" height="18.69" fill="none" stroke="#ac5ed9" stroke-width="1.0"/>
<circle cx="326.50" cy="461.50" r="1.1" fill="#9b3fd6"/>
<circle cx="326.50" cy="479.40" r="1.1" fill="#9b3fd6"/>
<circle cx="322.50" cy="498.40" r="0.6" fill="#9b3fd6"/>
<circle cx="325.17" cy="498.40" r="0.6" fill="#9b3fd6"/>
<circle cx="327.83" cy="498.40" r="0.6" fill="#9b3fd6"/>
<circle cx="330.50" cy="498.40" r="0.6" fill="#9b3fd6"/>
<text x="326.74" y="484.71" font-size="5.2" text-anchor="middle" font-weight="normal" fill="#1a1a1a" style="stroke-width:0.12px">122</text>
<line x1="326.74" y1="505.60" x2="326.74" y2="508.90" stroke="#1a1a1a" stroke-width="1.35"/>
<text transform="translate(327.94,514.70) rotate(-45)" font-size="5.89" text-anchor="end" font-weight="bold" fill="#1a1a1a">BA.2</text>
<rect x="338.41" y="498.99" width="11.40" height="6.61" fill="none" stroke="#8e55a8" stroke-width="1.0"/>
<line x1="337.91" y1="499.39" x2="350.31" y2="499.39" stroke="#7a3a9a" stroke-width="1.9"/>
<text x="344.11" y="496.79" font-size="5.2" text-anchor="middle" font-weight="normal" fill="#1a1a1a" style="stroke-width:0.12px">50</text>
<line x1="344.11" y1="505.60" x2="344.11" y2="508.90" stroke="#1a1a1a" stroke-width="1.35"/>
<text transform="translate(345.31,514.70) rotate(-45)" font-size="5.89" text-anchor="end" font-weight="bold" fill="#1a1a1a">BA.1/BA.2</text>
<rect x="355.78" y="498.99" width="11.40" height="6.61" fill="none" stroke="#3f8796" stroke-width="1.0"/>
<circle cx="356.50" cy="498.60" r="0.5" fill="#2f7282"/>
<circle cx="358.40" cy="498.60" r="0.5" fill="#2f7282"/>
<circle cx="360.30" cy="498.60" r="0.5" fill="#2f7282"/>
<circle cx="362.20" cy="498.60" r="0.5" fill="#2f7282"/>
<circle cx="364.10" cy="498.60" r="0.5" fill="#2f7282"/>
<circle cx="366.00" cy="498.60" r="0.5" fill="#2f7282"/>
<text x="361.48" y="496.79" font-size="5.2" text-anchor="middle" font-weight="normal" fill="#1a1a1a" style="stroke-width:0.12px">50</text>
<line x1="361.48" y1="505.60" x2="361.48" y2="508.90" stroke="#1a1a1a" stroke-width="1.35"/>
<text transform="translate(362.68,514.70) rotate(-45)" font-size="5.89" text-anchor="end" font-weight="bold" fill="#1a1a1a">Delta</text>
<rect x="373.15" y="472.51" width="11.40" height="33.09" fill="none" stroke="#cdc8a8" stroke-width="1.0"/>
<circle cx="378.40" cy="439.20" r="1.1" fill="#b9b083"/>
<circle cx="378.40" cy="446.60" r="1.1" fill="#b9b083"/>
<circle cx="378.00" cy="478.40" r="1.1" fill="#b9b083"/>
<circle cx="379.20" cy="479.50" r="1.1" fill="#b9b083"/>
<circle cx="378.40" cy="494.50" r="1.1" fill="#b9b083"/>
<text x="378.85" y="470.31" font-size="5.2" text-anchor="middle" font-weight="normal" fill="#1a1a1a" style="stroke-width:0.12px">353</text>
<line x1="378.85" y1="505.60" x2="378.85" y2="508.90" stroke="#1a1a1a" stroke-width="1.35"/>
<text transform="translate(380.05,514.70) rotate(-45)" font-size="5.89" text-anchor="end" font-weight="bold" fill="#1a1a1a">Delta/BA.2-HD</text>
<rect x="390.52" y="472.78" width="11.40" height="32.82" fill="none" stroke="#8d2c88" stroke-width="1.0"/>
<circle cx="396.40" cy="445.60" r="1.1" fill="#7f1f7a"/>
<circle cx="396.40" cy="455.30" r="1.1" fill="#7f1f7a"/>
<circle cx="395.50" cy="476.70" r="1.1" fill="#7f1f7a"/>
<circle cx="397.50" cy="477.80" r="1.1" fill="#7f1f7a"/>
<circle cx="396.40" cy="483.00" r="1.1" fill="#7f1f7a"/>
<circle cx="396.40" cy="498.60" r="1.1" fill="#7f1f7a"/>
<text x="396.22" y="470.58" font-size="5.2" text-anchor="middle" font-weight="normal" fill="#1a1a1a" style="stroke-width:0.12px">346</text>
<line x1="396.22" y1="505.60" x2="396.22" y2="508.90" stroke="#1a1a1a" stroke-width="1.35"/>
<text transform="translate(397.42,514.70) rotate(-45)" font-size="5.89" text-anchor="end" font-weight="bold" fill="#1a1a1a">Delta/BA.2-LD</text>
<rect x="407.89" y="498.99" width="11.40" height="6.61" fill="none" stroke="#b22a6c" stroke-width="1.0"/>
<line x1="407.39" y1="499.39" x2="419.79" y2="499.39" stroke="#a51d60" stroke-width="1.9"/>
<text x="413.59" y="496.79" font-size="5.2" text-anchor="middle" font-weight="normal" fill="#1a1a1a" style="stroke-width:0.12px">50</text>
<line x1="413.59" y1="505.60" x2="413.59" y2="508.90" stroke="#1a1a1a" stroke-width="1.35"/>
<text transform="translate(414.79,514.70) rotate(-45)" font-size="5.89" text-anchor="end" font-weight="bold" fill="#1a1a1a">Al(OH)<tspan font-size="60%" dy="1">3</tspan><tspan dy="-1">+CpG</tspan></text>
</svg>
</body></html>
